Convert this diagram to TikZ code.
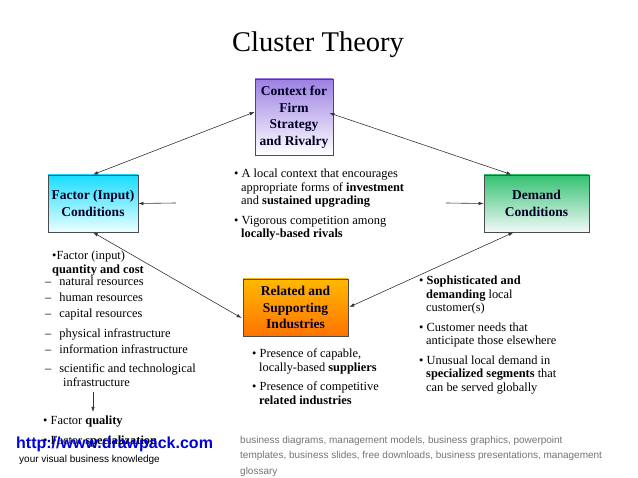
\documentclass[tikz,border=0pt]{standalone}
\usepackage{fontspec}
\setmainfont{Liberation Serif}
\newfontfamily\sansf{Liberation Sans}
\usetikzlibrary{arrows.meta}
\begin{document}
\begin{tikzpicture}[x=1pt,y=-1pt,
  box/.style={draw=black!70,line width=0.8pt,font=\fontsize{13.5}{16.5}\selectfont\bfseries,align=center,text=black!85!blue,inner sep=0pt},
  conn/.style={draw=black!80,line width=0.6pt,{Latex[length=5pt,width=3.5pt]}-{Latex[length=5pt,width=3.5pt]}},
  one/.style={draw=black!80,line width=0.6pt,-{Latex[length=5pt,width=3.5pt]}},
  txt/.style={anchor=north west,align=left,inner sep=0pt,font=\fontsize{12.4}{13.5}\selectfont},
  gray/.style={anchor=north west,align=left,inner sep=0pt,text=black!55,font=\sansf\fontsize{10}{15.5}\selectfont}]
\useasboundingbox (0,0) rectangle (638,478);
\node (title) at (318,45) {\fontsize{28.5}{32}\selectfont Cluster Theory};
\node[box,minimum width=78pt,minimum height=76pt,top color=violet!45!blue!50,bottom color=white] (ctx) at (294,117) {Context for\\Firm\\Strategy\\and Rivalry};
\node[box,minimum width=90pt,minimum height=57pt,top color=cyan!85!blue!90,bottom color=cyan!8] (fac) at (93,203.5) {Factor (Input)\\Conditions};
\node[box,minimum width=105pt,minimum height=57pt,top color=teal!60!green!80,bottom color=teal!5] (dem) at (536.5,203.5) {Demand\\Conditions};
\node[box,minimum width=105pt,minimum height=57pt,top color=orange!55!yellow,bottom color=orange!90!red] (rel) at (295.5,307.5) {Related and\\Supporting\\Industries};
\coordinate (ca) at (176,203);
\coordinate (cb) at (446,203);
\coordinate (va) at (93,392);
\coordinate (vb) at (93,412);
\draw[conn] ([xshift=0pt]fac.north) -- (ctx.west |- 0,112);
\draw[conn] ([xshift=-4pt]ctx.east |- 0,113) -- ([xshift=-25pt]dem.north);
\draw[conn] (fac.south) -- ([xshift=-1pt]rel.west |- 0,318);
\draw[conn] ([xshift=1pt]rel.east |- 0,307) -- ([xshift=-23pt]dem.south);
\draw[one] (ca) -- (fac.east);
\draw[one] (cb) -- (dem.west);
\draw[one] (va) -- (vb);
\node[txt] (t1) at (52,251) {•Factor (input)\\\textbf{quantity and cost}};
\node[txt] (t2) at (45,277) {–\hspace{8pt}natural resources\\[2.5pt]–\hspace{8pt}human resources\\[2.5pt]–\hspace{8pt}capital resources\\[6pt]–\hspace{8pt}physical infrastructure\\[2.5pt]–\hspace{8pt}information infrastructure\\[6pt]–\hspace{8pt}scientific and technological\\\hspace*{18pt}infrastructure};
\node[txt] (t3) at (43,416) {• Factor \textbf{quality}};
\node[txt] (t4) at (43,436) {• Factor \textbf{specialization}};
\node[txt] (c1) at (234,169) {• A local context that encourages\\\hspace*{7pt}appropriate forms of \textbf{investment}\\\hspace*{7pt}and \textbf{sustained upgrading}\\[6pt]• Vigorous competition among\\\hspace*{7pt}\textbf{locally-based rivals}};
\node[txt] (r1) at (252,349) {• Presence of capable,\\\hspace*{7pt}locally-based \textbf{suppliers}\\[6pt]• Presence of competitive\\\hspace*{7pt}\textbf{related industries}};
\node[txt] (d1) at (419,276) {• \textbf{Sophisticated and}\\\hspace*{7pt}\textbf{demanding} local\\\hspace*{7pt}customer(s)\\[6pt]• Customer needs that\\\hspace*{7pt}anticipate those elsewhere\\[6pt]• Unusual local demand in\\\hspace*{7pt}\textbf{specialized segments} that\\\hspace*{7pt}can be served globally};
\node[anchor=west,inner sep=0pt,text=blue!85!black,font=\sansf\bfseries\fontsize{16}{18}\selectfont] (w1) at (16,444) {http://www.drawpack.com};
\node[anchor=west,inner sep=0pt,font=\sansf\fontsize{10}{12}\selectfont] (w2) at (19,460) {your visual business knowledge};
\node[gray] (g) at (240,436) {business diagrams, management models, business graphics, powerpoint\\templates, business slides, free downloads, business presentations, management\\glossary};
\end{tikzpicture}
\end{document}
